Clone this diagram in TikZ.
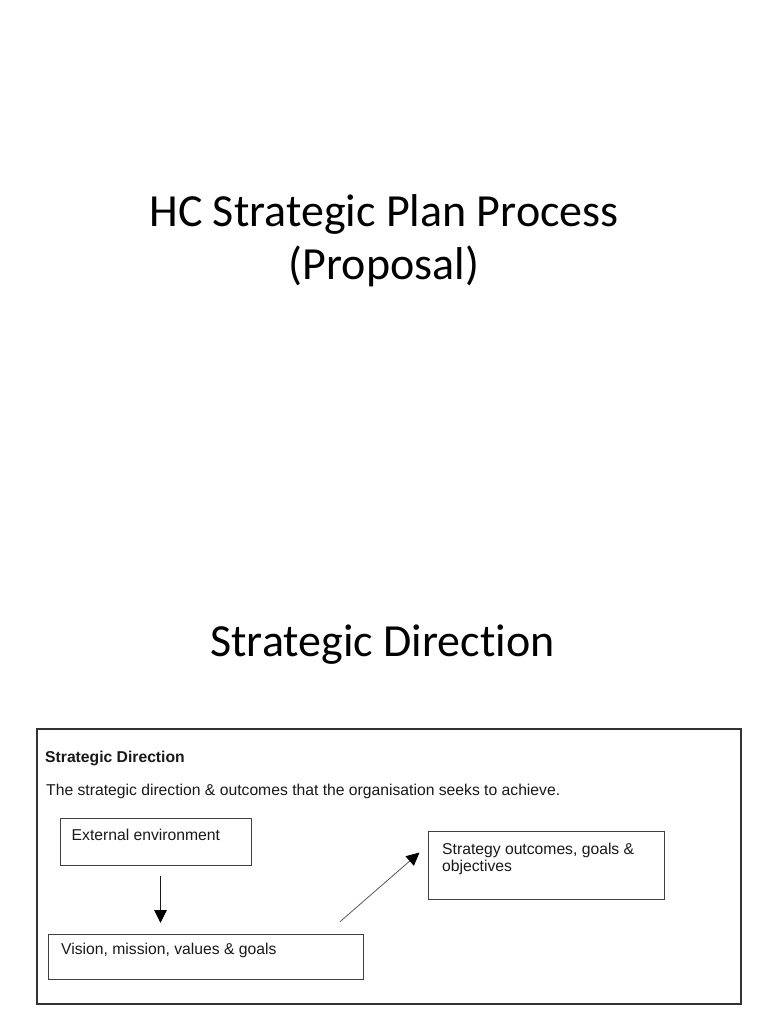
\documentclass[tikz,border=0pt]{standalone}
\usepackage{fontspec}
\setmainfont{Liberation Sans}
\newfontfamily\titlefont[Ligatures=NoCommon]{Carlito}
\usetikzlibrary{arrows.meta}
\begin{document}
\begin{tikzpicture}[x=1pt,y=-1pt,
  titletext/.style={font=\titlefont\fontsize{46}{53}\selectfont, inner sep=0pt, anchor=base},
  boxtext/.style={font=\fontsize{15.7}{17.5}\selectfont, inner sep=0pt, anchor=base west, text=black!90},
  stepbox/.style={draw=black!75, line width=1.3pt, inner sep=0pt, anchor=north west},
  arr/.style={-{Triangle[length=13pt,width=12.5pt,color=black,fill=black]}, line width=1pt}
]
\useasboundingbox (0,0) rectangle (768,1024);
\fill[white] (0,0) rectangle (768,1024);

% slide titles
\node[titletext] (t1) at (384,226.7) {HC Strategic Plan Process};
\node[titletext] (t2) at (384,279.5) {(Proposal)};
\node[titletext] (t3) at (382.5,656) {Strategic Direction};

% outer frame
\node[draw=black!80, line width=1.8pt, inner sep=0pt, anchor=north west,
      minimum width=704.3pt, minimum height=274.7pt] (frame) at (35.7,728) {};

\node[boxtext, font=\bfseries\fontsize{15.7}{17.5}\selectfont] (head) at (45,762.5) {Strategic Direction};
\node[boxtext] (sub) at (46,795) {The strategic direction \& outcomes that the organisation seeks to achieve.};

% boxes
\node[stepbox, minimum width=190.5pt, minimum height=47pt] (ext) at (60,818) {};
\node[boxtext] (extt) at (71.5,840) {External environment};

\node[stepbox, minimum width=235.5pt, minimum height=68pt] (out) at (428,831) {};
\node[boxtext] (outt1) at (442,854) {Strategy outcomes, goals \&};
\node[boxtext] (outt2) at (442,871.5) {objectives};

\node[stepbox, minimum width=315pt, minimum height=45.5pt] (vis) at (47.5,933.5) {};
\node[boxtext] (vist) at (61,954) {Vision, mission, values \& goals};

% connectors
\coordinate (d1) at (160.5,876);
\coordinate (d2) at (160.5,923);
\coordinate (g1) at (340,921.7);
\coordinate (g2) at (419.5,852.5);
\draw[arr, draw=black!90] (d1) -- (d2);
\draw[arr, draw=black!65, line width=0.8pt] (g1) -- (g2);
\end{tikzpicture}
\end{document}
